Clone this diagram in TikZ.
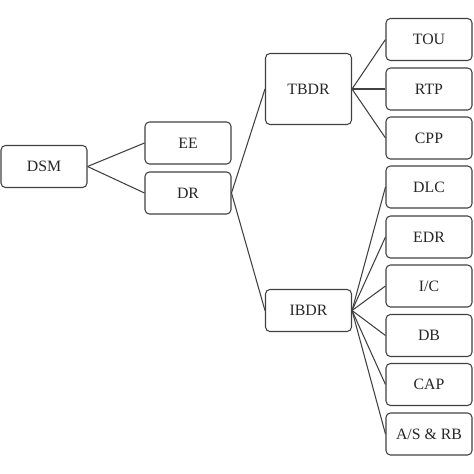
\documentclass[tikz,border=0pt]{standalone}
\usepackage{fontspec}
\setmainfont{Liberation Serif}
\usepackage{tikz}
\usetikzlibrary{positioning,calc}

\tikzset{box/.style={draw=black!75,line width=0.6pt,rounded corners=2.5pt,minimum width=1.72cm,minimum height=0.84cm,inner sep=0pt,font=\fontsize{9}{11}\selectfont,text=black!85}}
\tikzset{link/.style={draw=black!75,line width=0.6pt}}

\begin{document}
\begin{tikzpicture}[x=0.02cm,y=-0.02cm]
\useasboundingbox (0,0) rectangle (474,474);

\node[box] (dsm) at (44,166.5) {DSM};

\node[box] (ee) at (188,143) {EE};
\node[box] (dr) at (188,193) {DR};

\node[box,minimum height=1.42cm] (tbdr) at (308.5,89) {TBDR};
\node[box] (ibdr) at (308.5,310.5) {IBDR};

\node[box] (tou) at (429,39.5) {TOU};
\node[box] (rtp) at (429,89) {RTP};
\node[box] (cpp) at (429,138) {CPP};
\node[box] (dlc) at (429,187) {DLC};
\node[box] (edr) at (429,237) {EDR};
\node[box] (ic) at (429,286) {I/C};
\node[box] (db) at (429,335.5) {DB};
\node[box] (cap) at (429,384.5) {CAP};
\node[box] (asrb) at (429,434) {A/S \& RB};

\draw[link] (dsm.east)--(ee.west);
\draw[link] (dsm.east)--(dr.west);

\draw[link] (dr.east)--(tbdr.west);
\draw[link] (dr.east)--(ibdr.west);

\draw[link] (tbdr.east)--(tou.west);
\draw[link] (tbdr.east)--(rtp.west);
\draw[link] (tbdr.east)--(cpp.west);

\draw[link] (ibdr.east)--(dlc.west);
\draw[link] (ibdr.east)--(edr.west);
\draw[link] (ibdr.east)--(ic.west);
\draw[link] (ibdr.east)--(db.west);
\draw[link] (ibdr.east)--(cap.west);
\draw[link] (ibdr.east)--(asrb.west);
\end{tikzpicture}
\end{document}
